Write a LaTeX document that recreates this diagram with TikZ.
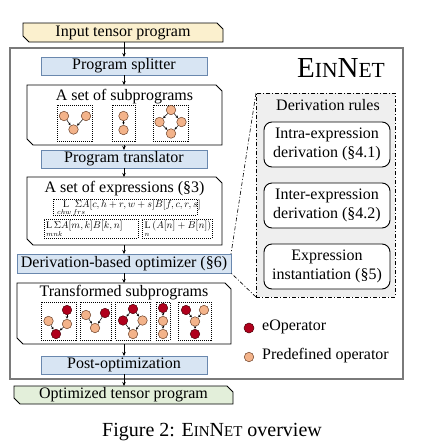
\documentclass[tikz,border=0pt]{standalone}
\usepackage{fontspec}
\setmainfont{Liberation Serif}
\usetikzlibrary{arrows.meta}
\definecolor{inbeige}{HTML}{FBF0CE}
\definecolor{splitblue}{HTML}{D8E5F3}
\definecolor{blueedge}{HTML}{6A88AE}
\definecolor{outgreen}{HTML}{E3EFDA}
\definecolor{frameg}{HTML}{7A7A7A}
\definecolor{rulesbg}{HTML}{EFEFEF}
\definecolor{eopred}{HTML}{B0001C}
\definecolor{eopedge}{HTML}{4A0008}
\definecolor{popfill}{HTML}{F3B38A}
\definecolor{popedge}{HTML}{6B4028}
\newcommand{\chamf}[2]{%
  \draw[line width=0.9pt, fill=#2] (#1.north west) -- ([xshift=-6pt]#1.north east) -- ([yshift=-6pt]#1.north east) -- (#1.south east) -- ([xshift=6pt]#1.south west) -- ([yshift=6pt]#1.south west) -- cycle;}
\tikzset{
  slot/.style={rectangle, inner sep=0pt, outer sep=0pt},
  procbox/.style={draw=blueedge, fill=splitblue, line width=0.8pt, minimum width=166pt, minimum height=18pt, inner sep=0pt, outer sep=0pt},
  dotbox/.style={draw, line width=0.9pt, dash pattern=on 1pt off 1pt, inner sep=0pt, outer sep=0pt},
  flow/.style={-{Stealth[length=4pt,width=3.5pt]}, line width=0.7pt},
  gedge/.style={-{Stealth[length=2.5pt,width=2.5pt]}, line width=0.5pt, shorten >=0.3pt},
  eop/.style={circle, fill=eopred, draw=eopedge, line width=0.5pt, minimum size=9.5pt, inner sep=0pt},
  pop/.style={circle, fill=popfill, draw=popedge, line width=0.5pt, minimum size=9.5pt, inner sep=0pt},
  rulebox/.style={draw, rounded corners=8pt, line width=0.9pt, fill=white, minimum width=126pt, minimum height=45pt, align=center, inner sep=0pt, font=\fontsize{16}{19.5}\selectfont},
  dashdot/.style={line width=0.6pt, dash pattern=on 4pt off 2pt on 1pt off 2pt},
  mathf/.style={inner sep=0pt, anchor=base west, font=\fontsize{10}{12}\selectfont},
  subf/.style={inner sep=0pt, anchor=base west, font=\fontsize{7}{8}\selectfont},
}
\begin{document}
\begin{tikzpicture}[x=1pt,y=-1pt,font=\fontsize{16}{18}\selectfont]
\useasboundingbox (0,0) rectangle (424,448);
% outer frame
\draw[frameg, line width=1.5pt] (10,48) rectangle (403,379);
% input
\node[slot, minimum width=200pt, minimum height=19pt] (in) at (123,32.5) {};
\chamf{in}{inbeige}
\node at (in) {Input tensor program};
% splitter
\node[procbox] (split) at (124,66) {Program splitter};
% subprograms
\node[slot, minimum width=195pt, minimum height=60pt] (subs) at (124.5,115) {};
\chamf{subs}{white}
\node (substitle) at (124.5,97) {A set of subprograms};
\node[dotbox, minimum width=35pt, minimum height=36pt] (g1) at (74.5,123) {};
\node[dotbox, minimum width=23pt, minimum height=36pt] (g2) at (123.5,123) {};
\node[dotbox, minimum width=35pt, minimum height=36pt] (g3) at (170.5,123) {};
\node[pop] (g1a) at (64,116) {};
\node[pop] (g1b) at (86,116) {};
\node[pop] (g1c) at (73.5,129.5) {};
\draw[gedge] (g1a) -- (g1c);
\draw[gedge] (g1b) -- (g1c);
\node[pop] (g2a) at (123.5,116) {};
\node[pop] (g2b) at (123.5,130) {};
\draw[gedge] (g2a) -- (g2b);
\node[pop] (g3t) at (171,110) {};
\node[pop] (g3l) at (159.5,122) {};
\node[pop] (g3r) at (181.5,122) {};
\node[pop] (g3b) at (171,133.5) {};
\draw[gedge] (g3t) -- (g3l);
\draw[gedge] (g3t) -- (g3r);
\draw[gedge] (g3l) -- (g3b);
\draw[gedge] (g3r) -- (g3b);
% translator
\node[procbox] (trans) at (124,159) {Program translator};
% expressions
\node[slot, minimum width=195pt, minimum height=68pt] (exprs) at (124.5,211) {};
\chamf{exprs}{white}
\node (exprtitle) at (124.5,189) {A set of expressions (§3)};
\node[dotbox, minimum width=144pt, minimum height=16pt] (e1) at (125,207) {};
\node[dotbox, minimum width=94pt, minimum height=19pt] (e2) at (91,228.5) {};
\node[dotbox, minimum width=70pt, minimum height=19pt] (e3) at (177,228.5) {};
\node[mathf] (e1f) at (63,207.5) {$\mathrm{L}\;\;\Sigma A[c,h+r,w+s]B[f,c,r,s]$};
\node[subf] (e1s) at (57,214) {$chw\,frs$};
\node[mathf] (e2f) at (46,228) {$\mathrm{L}\,\Sigma A[m,k]B[k,n]$};
\node[subf] (e2s) at (46,236) {$mnk$};
\node[mathf] (e3f) at (144.5,228) {$\mathrm{L}\,(A[n]+B[n])$};
\node[subf] (e3s) at (144.5,236) {$n$};
% optimizer
\node[procbox, minimum width=214pt, minimum height=19pt] (opt) at (124,263.5) {Derivation-based optimizer (§6)};
% transformed
\node[slot, minimum width=214pt, minimum height=61pt] (tsub) at (124,313.5) {};
\chamf{tsub}{white}
\node (tsubtitle) at (124,293) {Transformed subprograms};
\node[dotbox, minimum width=35pt, minimum height=38pt] (tb1) at (58.5,321) {};
\node[dotbox, minimum width=31pt, minimum height=38pt] (tb2) at (95.5,321) {};
\node[dotbox, minimum width=35pt, minimum height=38pt] (tb3) at (133,321) {};
\node[dotbox, minimum width=14pt, minimum height=38pt] (tb4) at (163,321) {};
\node[dotbox, minimum width=33pt, minimum height=38pt] (tb5) at (194.5,321) {};
% t1
\node[eop] (t1a) at (67,310) {};
\node[pop] (t1b) at (48.5,321) {};
\node[pop] (t1c) at (67,324) {};
\node[eop] (t1d) at (56,334) {};
\draw[gedge] (t1a) -- (t1c);
\draw[gedge] (t1b) -- (t1d);
\draw[gedge] (t1c) -- (t1d);
% t2
\node[pop] (t2a) at (86,315) {};
\node[eop] (t2b) at (105,313) {};
\node[pop] (t2c) at (95,328) {};
\draw[gedge] (t2a) -- (t2c);
\draw[gedge] (t2b) -- (t2c);
% t3
\node[eop] (t3t) at (133,309) {};
\node[eop] (t3l) at (123,320.5) {};
\node[pop] (t3r) at (142.5,320.5) {};
\node[pop] (t3b) at (133,334) {};
\draw[gedge] (t3t) -- (t3l);
\draw[gedge] (t3t) -- (t3r);
\draw[gedge] (t3l) -- (t3b);
\draw[gedge] (t3r) -- (t3b);
% t4
\node[eop] (t4a) at (163,308) {};
\node[pop] (t4b) at (163,321) {};
\node[pop] (t4c) at (163,334) {};
\draw[gedge] (t4a) -- (t4b);
\draw[gedge] (t4b) -- (t4c);
% t5
\node[eop] (t5a) at (186,310) {};
\node[pop] (t5b) at (204,310) {};
\node[pop] (t5c) at (195,321.5) {};
\node[eop] (t5d) at (195,334) {};
\draw[gedge] (t5a) -- (t5c);
\draw[gedge] (t5b) -- (t5c);
\draw[gedge] (t5c) -- (t5d);
% post
\node[procbox] (post) at (124,365) {Post-optimization};
% output
\node[slot, minimum width=219pt, minimum height=18pt] (out) at (123.5,395) {};
\chamf{out}{outgreen}
\node at (out) {Optimized tensor program};
% flow arrows
\draw[flow] (in.south -| split.north) -- (split.north);
\draw[flow] (split.south) -- (split.south |- subs.north);
\draw[flow] (subs.south -| trans.north) -- (trans.north);
\draw[flow] (trans.south) -- (trans.south |- exprs.north);
\draw[flow] (exprs.south -| opt.north) -- (opt.north);
\draw[flow] (opt.south) -- (opt.south |- tsub.north);
\draw[flow] (tsub.south -| post.north) -- (post.north);
\draw[flow] (post.south) -- (post.south |- out.north);
% EinNet title
\node (einnet) at (341,68) {\fontsize{29}{32}\selectfont E{\fontsize{21.5}{24}\selectfont IN}N{\fontsize{21.5}{24}\selectfont ET}};
% derivation rules
\node[dashdot, draw, fill=rulesbg, minimum width=139pt, minimum height=204pt, inner sep=0pt, outer sep=0pt] (rules) at (325.5,195) {};
\node (rulestitle) at (328,105) {Derivation rules};
\node[rulebox] (intra) at (327,144.5) {Intra-expression\\derivation (§4.1)};
\node[rulebox] (inter) at (327,205.5) {Inter-expression\\derivation (§4.2)};
\node[rulebox] (inst) at (327,266.5) {Expression\\instantiation (§5)};
\draw[dashdot] (rules.north west) -- (opt.north east);
\draw[dashdot] (rules.south west) -- (opt.south east);
% legend
\node[eop, minimum size=10pt] (leg1) at (249,328) {};
\node[anchor=west, inner sep=0pt] (leg1t) at (262,327) {eOperator};
\node[pop, minimum size=9.5pt] (leg2) at (249,357) {};
\node[anchor=west, inner sep=0pt] (leg2t) at (262,356) {Predefined operator};
% caption
\node (caption) at (212,432) {\fontsize{20}{24}\selectfont Figure 2: E{\fontsize{15}{18}\selectfont IN}N{\fontsize{15}{18}\selectfont ET} overview};
\end{tikzpicture}
\end{document}
